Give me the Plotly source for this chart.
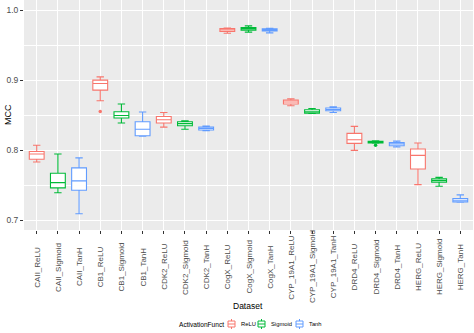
import plotly.graph_objects as go

datasets = ["CAII", "CB1", "CDK2", "CogX", "CYP_19A1", "DRD4", "HERG"]
activations = ["ReLU", "Sigmoid", "Tanh"]
suffix = {"ReLU": "ReLU", "Sigmoid": "Sigmoid", "Tanh": "TanH"}
colors = {"ReLU": "#F8766D", "Sigmoid": "#00BA38", "Tanh": "#619CFF"}

# per activation, in dataset order
lower = {
    "ReLU":    [0.783, 0.8707, 0.833, 0.9674, 0.8636, 0.7997, 0.7507],
    "Sigmoid": [0.739, 0.8389, 0.830, 0.969, 0.8525, 0.8100, 0.7483],
    "Tanh":    [0.709, 0.820, 0.828, 0.968, 0.854, 0.8046, 0.7255],
}
q1 = {
    "ReLU":    [0.787, 0.886, 0.839, 0.970, 0.866, 0.8097, 0.773],
    "Sigmoid": [0.746, 0.846, 0.835, 0.9717, 0.8531, 0.8103, 0.754],
    "Tanh":    [0.7426, 0.8207, 0.8289, 0.9707, 0.8564, 0.8064, 0.726],
}
median = {
    "ReLU":    [0.7945, 0.8955, 0.8436, 0.972, 0.8689, 0.815, 0.7926],
    "Sigmoid": [0.7536, 0.8497, 0.838, 0.9736, 0.855, 0.8117, 0.7564],
    "Tanh":    [0.756, 0.830, 0.831, 0.972, 0.8583, 0.809, 0.7283],
}
q3 = {
    "ReLU":    [0.798, 0.9003, 0.8483, 0.974, 0.8717, 0.824, 0.8017],
    "Sigmoid": [0.767, 0.855, 0.8407, 0.9755, 0.8579, 0.8126, 0.7589],
    "Tanh":    [0.7746, 0.8407, 0.833, 0.9736, 0.8603, 0.811, 0.7307],
}
upper = {
    "ReLU":    [0.807, 0.905, 0.854, 0.975, 0.8736, 0.834, 0.8103],
    "Sigmoid": [0.7946, 0.866, 0.842, 0.978, 0.8597, 0.8135, 0.7611],
    "Tanh":    [0.789, 0.8546, 0.8346, 0.9745, 0.862, 0.813, 0.736],
}
outlier_x = ["CB1_ReLU", "DRD4_Sigmoid"]
outlier_y = [0.8554, 0.807]
outlier_act = ["ReLU", "Sigmoid"]

categories = [f"{d}_{suffix[a]}" for d in datasets for a in activations]

W, H = 474, 333
ML, MR, MT, MB = 24, 1, 0, 103
PW, PH = W - ML - MR, H - MT - MB


def px_x(px):
    return (px - ML) / PW


def px_y(py):
    return (H - MB - py) / PH


fig = go.Figure()
for a in activations:
    xs = [f"{d}_{suffix[a]}" for d in datasets]
    fig.add_trace(go.Box(
        x=xs, q1=q1[a], median=median[a], q3=q3[a],
        lowerfence=lower[a], upperfence=upper[a],
        name=a, marker_color=colors[a], line=dict(color=colors[a], width=1.1),
        fillcolor="white", width=0.7, boxpoints=False, hoverinfo="skip",
        showlegend=False,
    ))
for xo, yo, ao in zip(outlier_x, outlier_y, outlier_act):
    fig.add_trace(go.Scatter(x=[xo], y=[yo], mode="markers",
                             marker=dict(color=colors[ao], size=3.5),
                             showlegend=False, hoverinfo="skip"))

annotations = []
# rotated category labels, centred like ggplot's
for c in categories:
    annotations.append(dict(text=c, x=c, xref="x", y=px_y(267), yref="paper",
                            textangle=-90, showarrow=False, xanchor="center",
                            yanchor="middle", font=dict(size=8, color="#4D4D4D")))
annotations.append(dict(text="Dataset", x=px_x(248), xref="paper", y=px_y(306), yref="paper",
                        xanchor="center", yanchor="middle", showarrow=False,
                        font=dict(size=8.5, color="black")))
annotations.append(dict(text="MCC", x=px_x(8), xref="paper", y=0.5, yref="paper",
                        xanchor="center", yanchor="middle", showarrow=False,
                        textangle=-90, font=dict(size=9, color="black")))

# compact ggplot-like legend
legend_y = 324
annotations.append(dict(text="ActivationFunct", x=px_x(177), xref="paper", y=px_y(legend_y),
                        yref="paper", xanchor="left", yanchor="middle", showarrow=False,
                        font=dict(size=6.6, color="black")))
shapes = []
icon_x = {"ReLU": 228, "Sigmoid": 258, "Tanh": 296}
label_text = {"ReLU": "ReLU", "Sigmoid": "Sigmoid", "Tanh": "Tanh"}
for a in activations:
    x0 = icon_x[a]
    x1 = x0 + 7
    xm = x0 + 3.5
    col = colors[a]
    shapes.append(dict(type="rect", xref="paper", yref="paper",
                       x0=px_x(x0), x1=px_x(x1), y0=px_y(legend_y + 3), y1=px_y(legend_y - 3),
                       line=dict(color=col, width=1), fillcolor="white"))
    shapes.append(dict(type="line", xref="paper", yref="paper",
                       x0=px_x(x0), x1=px_x(x1), y0=px_y(legend_y), y1=px_y(legend_y),
                       line=dict(color=col, width=1)))
    shapes.append(dict(type="line", xref="paper", yref="paper",
                       x0=px_x(xm), x1=px_x(xm), y0=px_y(legend_y - 3), y1=px_y(legend_y - 5),
                       line=dict(color=col, width=1)))
    shapes.append(dict(type="line", xref="paper", yref="paper",
                       x0=px_x(xm), x1=px_x(xm), y0=px_y(legend_y + 3), y1=px_y(legend_y + 5),
                       line=dict(color=col, width=1)))
    annotations.append(dict(text=label_text[a], x=px_x(x1 + 4), xref="paper", y=px_y(legend_y),
                            yref="paper", xanchor="left", yanchor="middle", showarrow=False,
                            font=dict(size=5.8, color="black")))

fig.update_layout(
    width=W, height=H,
    margin=dict(l=ML, r=MR, t=MT, b=MB),
    paper_bgcolor="white", plot_bgcolor="#EBEBEB",
    boxmode="overlay",
    font=dict(family="Liberation Sans, Arial, sans-serif", color="#4D4D4D"),
    showlegend=False,
    annotations=annotations,
    shapes=shapes,
)
fig.update_xaxes(
    type="category", categoryorder="array", categoryarray=categories,
    range=[-0.6, len(categories) - 0.4],
    showticklabels=False,
    showgrid=True, gridcolor="white", gridwidth=1,
    ticks="outside", ticklen=3, tickcolor="#333333", zeroline=False, showline=False,
)
fig.update_yaxes(
    range=[0.6857, 1.015], tickvals=[0.7, 0.8, 0.9, 1.0],
    ticktext=["0.7", "0.8", "0.9", "1.0"],
    tickfont=dict(size=8.5, color="#4D4D4D"),
    showgrid=True, gridcolor="white", gridwidth=1,
    minor=dict(tickvals=[0.75, 0.85, 0.95], showgrid=True, gridcolor="white", gridwidth=0.5),
    ticks="outside", ticklen=3, tickcolor="#333333", zeroline=False, showline=False,
)
fig.write_html("out.html")
